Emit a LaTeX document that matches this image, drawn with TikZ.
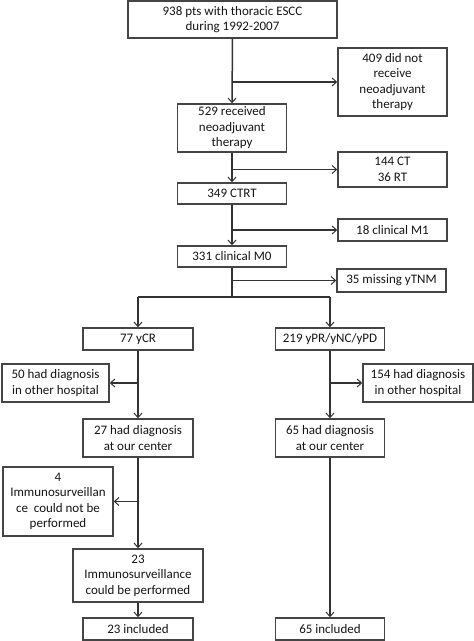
\documentclass[tikz,border=0pt]{standalone}
\usepackage{fontspec}
\setmainfont{Carlito}
\usetikzlibrary{arrows.meta}
\definecolor{boxc}{HTML}{454545}
\definecolor{linec}{HTML}{333333}
\definecolor{txtc}{HTML}{151515}
\tikzset{
  bx/.style={draw=boxc, line width=1.4pt, align=center, inner sep=0pt,
    text=txtc, font=\fontsize{13}{15.5}\selectfont},
  arr/.style={draw=linec, line width=1.5pt, -{Straight Barb[length=4.5pt,width=8pt,line width=1pt]}},
  ln/.style={draw=linec, line width=1.5pt}
}
\begin{document}
\begin{tikzpicture}[x=1pt,y=-1pt]
\useasboundingbox (0,0) rectangle (474,641);
\node[bx, minimum width=209pt, minimum height=37pt] (A) at (232.5,19.5) {938 pts with thoracic ESCC\\during 1992-2007};
\node[bx, minimum width=109pt, minimum height=68pt] (B) at (392.5,82) {409 did not\\receive\\neoadjuvant\\therapy};
\node[bx, minimum width=109pt, minimum height=48pt] (C) at (232,128) {529 received\\neoadjuvant\\therapy};
\node[bx, minimum width=109pt, minimum height=35pt] (D) at (392.5,169.5) {144 CT\\36 RT};
\node[bx, minimum width=109pt, minimum height=21pt] (E) at (232,193.5) {349 CTRT};
\node[bx, minimum width=109pt, minimum height=22pt] (F) at (392.5,230) {18 clinical M1};
\node[bx, minimum width=109pt, minimum height=21pt] (G) at (232,256.5) {331 clinical M0};
\node[bx, minimum width=109pt, minimum height=23pt] (H) at (391.5,280.5) {35 missing yTNM};
\node[bx, minimum width=110pt, minimum height=22pt] (I) at (138,339) {77 yCR};
\node[bx, minimum width=109pt, minimum height=22pt] (J) at (330,339) {219 yPR/yNC/yPD};
\node[bx, minimum width=107pt, minimum height=38pt] (K) at (55.5,383) {50 had diagnosis\\in other hospital};
\node[bx, minimum width=110pt, minimum height=38pt] (L) at (418,383) {154 had diagnosis\\in other hospital};
\node[bx, minimum width=110pt, minimum height=38pt] (M) at (138,438) {27 had diagnosis\\at our center};
\node[bx, minimum width=109pt, minimum height=38pt] (N) at (330,438) {65 had diagnosis\\at our center};
\node[bx, minimum width=110pt, minimum height=69pt] (O) at (58,501.5) {4\\Immunosurveillan\\ce\ \ could not be\\performed};
\node[bx, minimum width=130pt, minimum height=53pt] (P) at (138,575.5) {23\\Immunosurveillance\\could be performed};
\node[bx, minimum width=110pt, minimum height=22pt] (Q) at (138,629) {23 included};
\node[bx, minimum width=109pt, minimum height=22pt] (R) at (330,629) {65 included};
\coordinate (S) at (232,297);
\coordinate (SL) at (138,297);
\coordinate (SR) at (330,297);
% main column
\draw[arr] (A.south) -- (C.north);
\draw[arr] (A.south |- B.west) -- (B.west);
\draw[arr] (C.south) -- (E.north);
\draw[arr] (C.south |- D.west) -- (D.west);
\draw[arr] (E.south) -- (G.north);
\draw[arr] (E.south |- F.west) -- (F.west);
\draw[ln] (G.south) -- (S);
\draw[arr] (G.south |- H.west) -- (H.west);
\draw[ln] (SL) -- (SR);
\draw[arr] (SL) -- (I.north);
\draw[arr] (SR) -- (J.north);
% left column
\draw[arr] (I.south) -- (M.north);
\draw[arr] (I.south |- K.east) -- (K.east);
\draw[arr] (M.south) -- (P.north);
\draw[arr] (M.south |- O.east) -- (O.east);
\draw[arr] (P.south) -- (Q.north);
% right column
\draw[arr] (J.south) -- (N.north);
\draw[arr] (J.south |- L.west) -- (L.west);
\draw[arr] (N.south) -- (R.north);
\end{tikzpicture}
\end{document}
